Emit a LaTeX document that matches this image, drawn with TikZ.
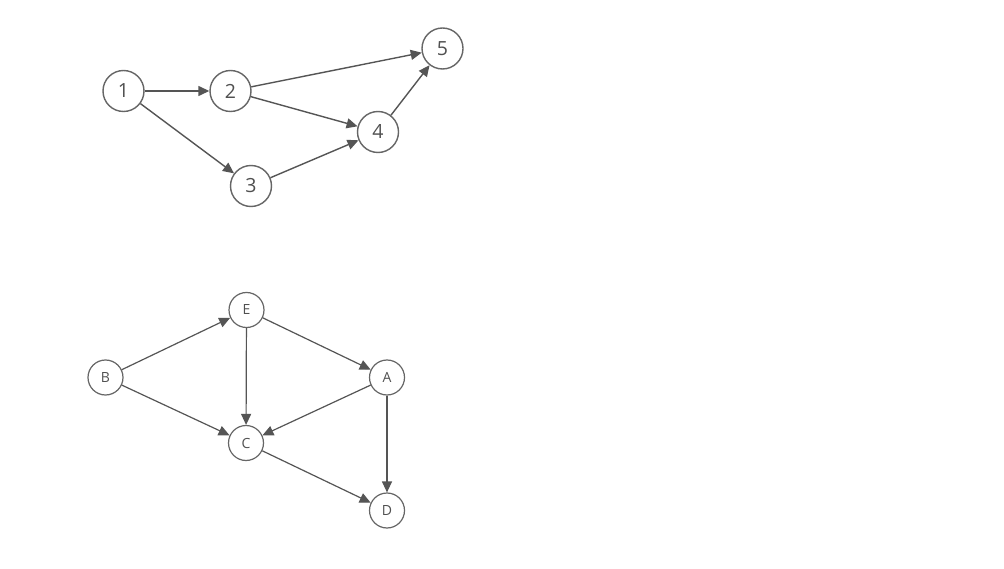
\documentclass[tikz,border=0pt]{standalone}
\usepackage{fontspec}
\setmainfont{Open Sans}
\usetikzlibrary{arrows.meta}
\definecolor{ln}{HTML}{555555}
\definecolor{cr}{HTML}{666666}
\definecolor{tx}{HTML}{505050}
\begin{document}
\begin{tikzpicture}[x=1pt,y=-1pt,
  big/.style={circle,draw=cr,line width=1.4pt,minimum size=41pt,inner sep=0pt,text=tx,font=\fontsize{19.5}{22}\selectfont},
  small/.style={circle,draw=cr,line width=1.2pt,minimum size=35pt,inner sep=0pt,text=tx,font=\fontsize{14}{16}\selectfont},
  edge/.style={draw=ln,line width=1.4pt,-{Triangle[length=11pt,width=10pt]}},
  sedge/.style={draw=ln,line width=1.2pt,-{Triangle[length=11pt,width=10pt]}}]
\useasboundingbox (0,0) rectangle (1004,569);
\fill[white] (0,0) rectangle (1004,569);
\node[big] (n1) at (123.5,91) {1};
\node[big] (n2) at (230.5,91) {2};
\node[big] (n3) at (251,186) {3};
\node[big] (n4) at (378,132) {4};
\node[big] (n5) at (442.5,48.5) {5};
\draw[edge] (n1) -- (n2);
\draw[edge] (n1) -- (n3);
\draw[edge] (n2) -- (n5);
\draw[edge] (n2) -- (n4);
\draw[edge] (n3) -- (n4);
\draw[edge] (n4) -- (n5);
\node[small] (E) at (246.5,310) {E};
\node[small] (B) at (105.5,377.5) {B};
\node[small] (A) at (387,377.5) {A};
\node[small] (C) at (246,443) {C};
\node[small] (D) at (387,510.5) {D};
\draw[sedge] (B) -- (E);
\draw[sedge] (B) -- (C);
\draw[sedge] (E) -- (C);
\draw[sedge] (E) -- (A);
\draw[sedge] (A) -- (C);
\draw[sedge] (A) -- (D);
\draw[sedge] (C) -- (D);
\end{tikzpicture}
\end{document}
